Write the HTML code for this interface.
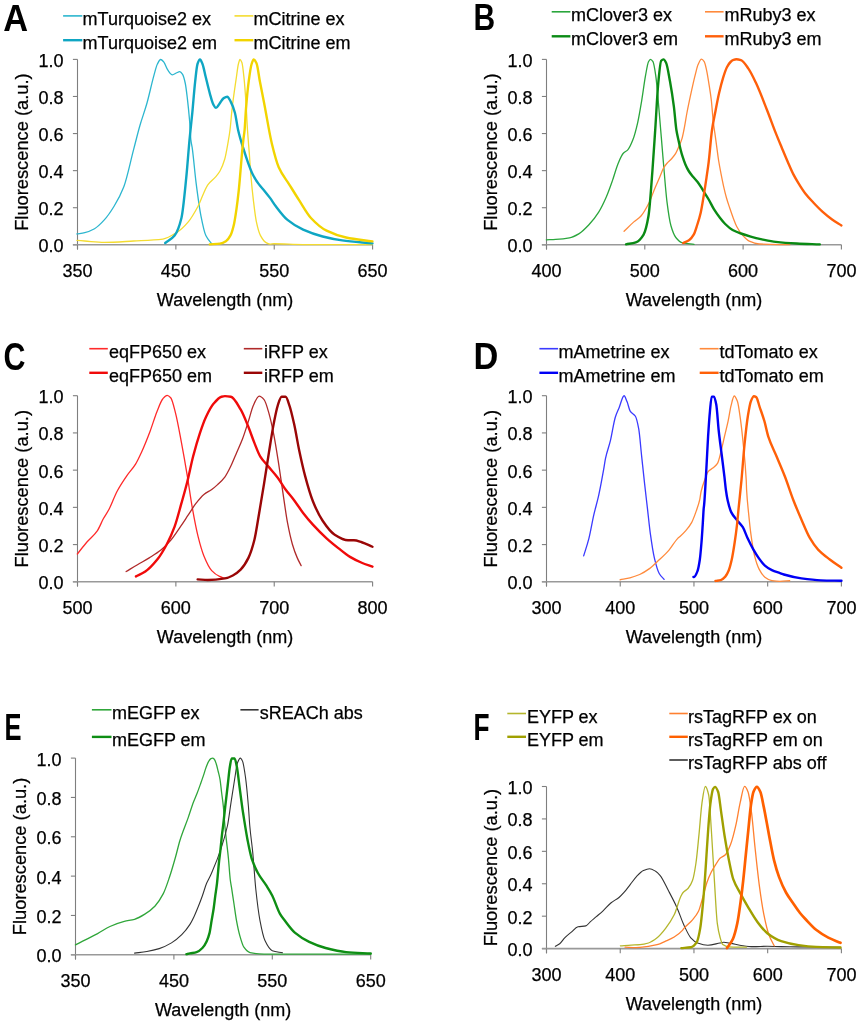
<!DOCTYPE html>
<html><head><meta charset="utf-8"><style>
html,body{margin:0;padding:0;background:#fff;width:860px;height:1024px;overflow:hidden}
svg{display:block;will-change:transform}
.t{stroke:#000;stroke-width:0.25px}
</style></head><body>
<svg width="860" height="1024" viewBox="0 0 860 1024">
<rect width="860" height="1024" fill="#fff"/>
<text x="0" y="0" transform="translate(3.2,30.7) scale(0.93,1)" font-size="37" font-weight="bold" font-family='"Liberation Sans", sans-serif'>A</text>
<line x1="63.10" y1="15.9" x2="82.30" y2="15.9" stroke="#2cb6cf" stroke-width="1.6"/>
<text x="82.6" y="25" class="t" font-size="18" font-family='"Liberation Sans", sans-serif'>mTurquoise2 ex</text>
<line x1="63.10" y1="40.2" x2="82.30" y2="40.2" stroke="#0fa6c3" stroke-width="2.4"/>
<text x="82.6" y="49.2" class="t" font-size="18" font-family='"Liberation Sans", sans-serif'>mTurquoise2 em</text>
<line x1="234.50" y1="15.9" x2="253.30" y2="15.9" stroke="#f4dc30" stroke-width="1.6"/>
<text x="253.6" y="25" class="t" font-size="18" font-family='"Liberation Sans", sans-serif'>mCitrine ex</text>
<line x1="234.50" y1="40.2" x2="253.30" y2="40.2" stroke="#f2d400" stroke-width="2.4"/>
<text x="253.6" y="49.2" class="t" font-size="18" font-family='"Liberation Sans", sans-serif'>mCitrine em</text>
<line x1="77.5" y1="59.4" x2="77.5" y2="249.5" stroke="#7f7f7f" stroke-width="1.1"/>
<line x1="72.9" y1="244.80" x2="77.5" y2="244.80" stroke="#7f7f7f" stroke-width="1.1"/>
<text x="63.6" y="252.30" class="t" font-size="18" text-anchor="end" font-family='"Liberation Sans", sans-serif'>0.0</text>
<line x1="72.9" y1="207.72" x2="77.5" y2="207.72" stroke="#7f7f7f" stroke-width="1.1"/>
<text x="63.6" y="215.22" class="t" font-size="18" text-anchor="end" font-family='"Liberation Sans", sans-serif'>0.2</text>
<line x1="72.9" y1="170.64" x2="77.5" y2="170.64" stroke="#7f7f7f" stroke-width="1.1"/>
<text x="63.6" y="178.14" class="t" font-size="18" text-anchor="end" font-family='"Liberation Sans", sans-serif'>0.4</text>
<line x1="72.9" y1="133.56" x2="77.5" y2="133.56" stroke="#7f7f7f" stroke-width="1.1"/>
<text x="63.6" y="141.06" class="t" font-size="18" text-anchor="end" font-family='"Liberation Sans", sans-serif'>0.6</text>
<line x1="72.9" y1="96.48" x2="77.5" y2="96.48" stroke="#7f7f7f" stroke-width="1.1"/>
<text x="63.6" y="103.98" class="t" font-size="18" text-anchor="end" font-family='"Liberation Sans", sans-serif'>0.8</text>
<line x1="72.9" y1="59.40" x2="77.5" y2="59.40" stroke="#7f7f7f" stroke-width="1.1"/>
<text x="63.6" y="66.90" class="t" font-size="18" text-anchor="end" font-family='"Liberation Sans", sans-serif'>1.0</text>
<line x1="72.9" y1="244.8" x2="372.6" y2="244.8" stroke="#999" stroke-width="1.6"/>
<line x1="77.50" y1="244.8" x2="77.50" y2="249.5" stroke="#7f7f7f" stroke-width="1.1"/>
<text x="77.50" y="276.80" class="t" font-size="18" text-anchor="middle" font-family='"Liberation Sans", sans-serif'>350</text>
<line x1="175.87" y1="244.8" x2="175.87" y2="249.5" stroke="#7f7f7f" stroke-width="1.1"/>
<text x="175.87" y="276.80" class="t" font-size="18" text-anchor="middle" font-family='"Liberation Sans", sans-serif'>450</text>
<line x1="274.23" y1="244.8" x2="274.23" y2="249.5" stroke="#7f7f7f" stroke-width="1.1"/>
<text x="274.23" y="276.80" class="t" font-size="18" text-anchor="middle" font-family='"Liberation Sans", sans-serif'>550</text>
<line x1="372.60" y1="244.8" x2="372.60" y2="249.5" stroke="#7f7f7f" stroke-width="1.1"/>
<text x="372.60" y="276.80" class="t" font-size="18" text-anchor="middle" font-family='"Liberation Sans", sans-serif'>650</text>
<text x="225.05" y="305.70" class="t" font-size="18" text-anchor="middle" font-family='"Liberation Sans", sans-serif'>Wavelength (nm)</text>
<text x="0" y="0" transform="translate(27.80,152.10) rotate(-90)" class="t" font-size="18.3" text-anchor="middle" font-family='"Liberation Sans", sans-serif'>Fluorescence (a.u.)</text>
<path d="M76.95,233.98 C79.56,233.53 82.16,233.24 84.77,232.62 C88.02,231.84 91.28,230.51 94.53,228.71 C97.79,226.91 101.04,223.49 104.30,219.92 C107.55,216.36 110.81,211.61 114.06,206.25 C117.32,200.89 120.57,195.25 123.83,186.72 C127.08,178.19 130.34,161.97 133.59,149.61 C135.73,141.50 137.86,132.71 140.00,125.30 C142.33,117.21 144.67,111.26 147.00,103.00 C149.33,94.74 151.67,83.38 154.00,75.10 C155.13,71.08 156.27,66.18 157.40,64.00 C158.50,61.89 159.60,59.50 160.70,59.50 C161.70,59.50 162.70,60.79 163.70,61.90 C165.10,63.46 166.50,68.31 167.90,70.20 C169.40,72.23 170.90,74.80 172.40,74.80 C173.70,74.80 175.00,73.56 176.30,73.00 C177.47,72.50 178.63,71.60 179.80,71.60 C180.73,71.60 181.67,72.96 182.60,74.40 C183.50,75.79 184.40,79.29 185.30,83.50 C186.00,86.78 186.70,92.90 187.40,98.80 C188.10,104.70 188.80,111.43 189.50,119.80 C189.97,125.38 190.43,136.09 190.90,140.00 C191.33,143.59 191.76,144.68 192.19,147.66 C193.49,156.67 194.79,172.67 196.09,182.81 C197.72,195.49 199.35,207.82 200.98,216.02 C202.60,224.21 204.23,232.12 205.86,235.55 C207.81,239.66 209.77,241.02 211.72,243.75" fill="none" stroke="#2cb6cf" stroke-width="1.3" stroke-linejoin="round" stroke-linecap="round"/>
<path d="M76.95,240.43 C79.56,240.62 82.16,240.83 84.77,241.02 C91.28,241.49 97.79,242.38 104.30,242.38 C114.06,242.38 123.83,241.55 133.59,241.02 C143.36,240.48 153.12,240.32 162.89,239.06 C167.45,238.48 172.01,235.48 176.56,232.62 C180.47,230.16 184.38,226.47 188.28,221.88 C191.54,218.05 194.79,212.28 198.05,206.25 C201.30,200.22 204.56,189.18 207.81,184.77 C210.42,181.23 213.02,180.00 215.62,176.95 C217.08,175.25 218.54,173.56 220.00,171.00 C221.57,168.25 223.13,164.60 224.70,159.30 C225.87,155.35 227.03,148.41 228.20,141.70 C228.80,138.25 229.40,134.74 230.00,130.00 C230.70,124.48 231.40,114.67 232.10,108.60 C233.50,96.46 234.90,87.57 236.30,77.90 C237.00,73.06 237.70,66.71 238.40,64.00 C238.93,61.93 239.47,59.50 240.00,59.50 C240.63,59.50 241.27,60.93 241.90,62.60 C242.60,64.45 243.30,71.43 244.00,77.90 C244.67,84.06 245.33,93.06 246.00,103.00 C246.50,110.46 247.00,122.41 247.50,130.00 C248.10,139.10 248.70,145.37 249.30,153.40 C249.87,160.98 250.43,170.25 251.00,176.80 C251.80,186.04 252.60,193.61 253.40,200.30 C254.37,208.39 255.33,216.70 256.30,221.30 C257.67,227.81 259.03,232.74 260.40,235.40 C262.17,238.84 263.93,241.30 265.70,242.40 C267.13,243.30 268.57,244.20 270.00,244.20 C271.28,244.20 272.55,243.75 273.83,243.75 C283.59,243.75 293.36,244.53 303.12,244.53 C326.24,244.53 349.35,244.53 372.46,244.53" fill="none" stroke="#f4dc30" stroke-width="1.3" stroke-linejoin="round" stroke-linecap="round"/>
<path d="M165.23,242.97 C168.36,240.49 171.48,239.44 174.61,235.55 C176.89,232.71 179.17,227.21 181.45,217.97 C183.07,211.37 184.70,193.03 186.33,176.95 C187.39,166.51 188.44,151.18 189.50,140.00 C190.43,130.13 191.37,122.41 192.30,112.80 C193.23,103.19 194.17,90.40 195.10,82.10 C195.90,74.98 196.70,66.33 197.50,64.00 C198.33,61.57 199.17,59.50 200.00,59.50 C200.83,59.50 201.67,61.95 202.50,64.00 C203.53,66.54 204.57,72.35 205.60,76.50 C207.00,82.12 208.40,88.36 209.80,93.30 C210.97,97.41 212.13,102.29 213.30,104.40 C214.20,106.03 215.10,107.90 216.00,107.90 C217.17,107.90 218.33,105.17 219.50,103.70 C220.90,101.93 222.30,98.95 223.70,98.10 C224.87,97.39 226.03,96.70 227.20,96.70 C228.37,96.70 229.53,99.48 230.70,101.60 C232.10,104.15 233.50,107.73 234.90,112.80 C235.97,116.66 237.03,125.38 238.10,130.00 C239.87,137.66 241.63,142.98 243.40,148.70 C244.97,153.77 246.53,158.54 248.10,162.80 C249.67,167.06 251.23,171.40 252.80,174.50 C254.73,178.32 256.67,181.25 258.60,183.90 C260.57,186.60 262.53,188.48 264.50,190.90 C266.33,193.15 268.17,195.42 270.00,197.90 C271.93,200.51 273.85,203.73 275.78,206.25 C279.69,211.35 283.59,216.70 287.50,219.92 C292.71,224.22 297.92,227.33 303.12,229.69 C309.64,232.64 316.15,234.87 322.66,236.52 C329.17,238.18 335.68,239.56 342.19,240.43 C352.28,241.78 362.37,242.38 372.46,243.36" fill="none" stroke="#0fa6c3" stroke-width="2.4" stroke-linejoin="round" stroke-linecap="round"/>
<path d="M209.77,244.34 C213.18,244.09 216.59,244.04 220.00,243.60 C221.97,243.34 223.93,242.44 225.90,241.20 C227.43,240.24 228.97,238.24 230.50,235.40 C231.70,233.18 232.90,228.92 234.10,223.70 C234.87,220.37 235.63,214.96 236.40,209.60 C237.17,204.24 237.93,198.13 238.70,190.90 C239.30,185.24 239.90,177.82 240.50,171.00 C241.07,164.55 241.63,157.10 242.20,151.10 C242.60,146.87 243.00,142.87 243.40,139.40 C243.80,135.93 244.20,134.11 244.60,130.00 C245.07,125.21 245.53,114.36 246.00,108.60 C246.93,97.07 247.87,87.66 248.80,80.70 C249.73,73.74 250.67,66.88 251.60,64.00 C252.30,61.84 253.00,59.50 253.70,59.50 C254.63,59.50 255.57,61.32 256.50,63.30 C257.67,65.77 258.83,76.00 260.00,82.10 C261.35,89.18 262.71,95.75 264.06,102.73 C266.67,116.16 269.27,133.00 271.88,143.75 C274.15,153.16 276.43,162.00 278.71,167.19 C282.29,175.33 285.87,178.97 289.45,184.77 C292.71,190.03 295.96,195.35 299.22,200.39 C303.12,206.44 307.03,213.79 310.94,217.97 C316.15,223.54 321.35,228.08 326.56,230.66 C333.07,233.90 339.58,236.12 346.09,237.50 C354.88,239.37 363.67,240.10 372.46,241.41" fill="none" stroke="#f2d400" stroke-width="2.4" stroke-linejoin="round" stroke-linecap="round"/>
<text x="0" y="0" transform="translate(473.5,29.8) scale(0.81,1)" font-size="37" font-weight="bold" font-family='"Liberation Sans", sans-serif'>B</text>
<line x1="551.70" y1="11.8" x2="570.40" y2="11.8" stroke="#2aa63c" stroke-width="1.6"/>
<text x="571.1" y="20.9" class="t" font-size="18" font-family='"Liberation Sans", sans-serif'>mClover3 ex</text>
<line x1="551.70" y1="36.3" x2="570.40" y2="36.3" stroke="#0a8a14" stroke-width="2.4"/>
<text x="571.1" y="45.1" class="t" font-size="18" font-family='"Liberation Sans", sans-serif'>mClover3 em</text>
<line x1="705.00" y1="11.8" x2="723.60" y2="11.8" stroke="#ff8a3c" stroke-width="1.6"/>
<text x="724.4" y="20.9" class="t" font-size="18" font-family='"Liberation Sans", sans-serif'>mRuby3 ex</text>
<line x1="705.00" y1="36.3" x2="723.60" y2="36.3" stroke="#ff5f0a" stroke-width="2.4"/>
<text x="724.4" y="45.1" class="t" font-size="18" font-family='"Liberation Sans", sans-serif'>mRuby3 em</text>
<line x1="546.5" y1="59.4" x2="546.5" y2="249.5" stroke="#7f7f7f" stroke-width="1.1"/>
<line x1="541.9" y1="244.80" x2="546.5" y2="244.80" stroke="#7f7f7f" stroke-width="1.1"/>
<text x="532.6" y="252.30" class="t" font-size="18" text-anchor="end" font-family='"Liberation Sans", sans-serif'>0.0</text>
<line x1="541.9" y1="207.72" x2="546.5" y2="207.72" stroke="#7f7f7f" stroke-width="1.1"/>
<text x="532.6" y="215.22" class="t" font-size="18" text-anchor="end" font-family='"Liberation Sans", sans-serif'>0.2</text>
<line x1="541.9" y1="170.64" x2="546.5" y2="170.64" stroke="#7f7f7f" stroke-width="1.1"/>
<text x="532.6" y="178.14" class="t" font-size="18" text-anchor="end" font-family='"Liberation Sans", sans-serif'>0.4</text>
<line x1="541.9" y1="133.56" x2="546.5" y2="133.56" stroke="#7f7f7f" stroke-width="1.1"/>
<text x="532.6" y="141.06" class="t" font-size="18" text-anchor="end" font-family='"Liberation Sans", sans-serif'>0.6</text>
<line x1="541.9" y1="96.48" x2="546.5" y2="96.48" stroke="#7f7f7f" stroke-width="1.1"/>
<text x="532.6" y="103.98" class="t" font-size="18" text-anchor="end" font-family='"Liberation Sans", sans-serif'>0.8</text>
<line x1="541.9" y1="59.40" x2="546.5" y2="59.40" stroke="#7f7f7f" stroke-width="1.1"/>
<text x="532.6" y="66.90" class="t" font-size="18" text-anchor="end" font-family='"Liberation Sans", sans-serif'>1.0</text>
<line x1="541.9" y1="244.8" x2="841.4" y2="244.8" stroke="#999" stroke-width="1.6"/>
<line x1="546.50" y1="244.8" x2="546.50" y2="249.5" stroke="#7f7f7f" stroke-width="1.1"/>
<text x="546.50" y="276.80" class="t" font-size="18" text-anchor="middle" font-family='"Liberation Sans", sans-serif'>400</text>
<line x1="644.80" y1="244.8" x2="644.80" y2="249.5" stroke="#7f7f7f" stroke-width="1.1"/>
<text x="644.80" y="276.80" class="t" font-size="18" text-anchor="middle" font-family='"Liberation Sans", sans-serif'>500</text>
<line x1="743.10" y1="244.8" x2="743.10" y2="249.5" stroke="#7f7f7f" stroke-width="1.1"/>
<text x="743.10" y="276.80" class="t" font-size="18" text-anchor="middle" font-family='"Liberation Sans", sans-serif'>600</text>
<line x1="841.40" y1="244.8" x2="841.40" y2="249.5" stroke="#7f7f7f" stroke-width="1.1"/>
<text x="841.40" y="276.80" class="t" font-size="18" text-anchor="middle" font-family='"Liberation Sans", sans-serif'>700</text>
<text x="693.95" y="305.70" class="t" font-size="18" text-anchor="middle" font-family='"Liberation Sans", sans-serif'>Wavelength (nm)</text>
<text x="0" y="0" transform="translate(496.80,152.10) rotate(-90)" class="t" font-size="18.3" text-anchor="middle" font-family='"Liberation Sans", sans-serif'>Fluorescence (a.u.)</text>
<path d="M546.34,239.84 C549.47,239.71 552.59,239.64 555.72,239.45 C560.28,239.18 564.83,238.75 569.39,237.89 C572.65,237.28 575.90,235.52 579.16,233.59 C582.41,231.67 585.67,228.27 588.92,224.80 C592.18,221.34 595.43,217.28 598.69,212.11 C601.29,207.97 603.90,202.48 606.50,196.48 C608.45,191.99 610.41,186.37 612.36,180.86 C614.31,175.34 616.27,167.94 618.22,163.28 C619.85,159.40 621.47,155.38 623.10,153.52 C624.73,151.66 626.36,151.47 627.98,149.61 C629.61,147.75 631.24,144.03 632.87,139.84 C634.49,135.66 636.12,129.40 637.75,122.27 C639.05,116.56 640.35,108.54 641.66,100.78 C642.96,93.02 644.26,82.41 645.56,75.39 C646.54,70.13 647.52,63.51 648.49,61.72 C649.14,60.52 649.79,59.38 650.45,59.38 C651.29,59.38 652.14,60.41 652.98,61.72 C653.90,63.13 654.81,69.30 655.72,75.39 C656.89,83.23 658.06,99.35 659.23,112.50 C660.54,127.11 661.84,144.43 663.14,159.38 C664.44,174.32 665.74,192.23 667.05,202.34 C668.35,212.45 669.65,221.24 670.95,225.78 C672.58,231.45 674.21,235.49 675.84,237.50 C678.11,240.31 680.39,242.46 682.67,242.97 C686.45,243.81 690.22,243.88 694.00,244.34" fill="none" stroke="#2aa63c" stroke-width="1.3" stroke-linejoin="round" stroke-linecap="round"/>
<path d="M624.08,231.25 C627.33,228.12 630.59,224.74 633.84,221.88 C636.23,219.77 638.61,218.59 641.00,216.00 C643.60,213.18 646.20,208.44 648.80,203.30 C650.87,199.21 652.93,192.91 655.00,188.00 C656.67,184.04 658.33,180.43 660.00,176.50 C661.13,173.83 662.27,170.32 663.40,168.30 C664.53,166.28 665.67,164.84 666.80,163.50 C668.40,161.61 670.00,160.53 671.60,158.70 C672.97,157.14 674.33,155.56 675.70,153.30 C676.87,151.37 678.03,148.43 679.20,145.70 C680.10,143.59 681.00,141.84 681.90,138.90 C682.57,136.73 683.23,133.29 683.90,130.00 C684.93,124.90 685.97,117.91 687.00,112.50 C688.07,106.92 689.13,101.92 690.20,96.90 C691.23,92.04 692.27,87.24 693.30,82.80 C694.07,79.51 694.83,76.33 695.60,73.40 C696.40,70.34 697.20,66.61 698.00,64.80 C699.17,62.16 700.33,59.20 701.50,59.20 C702.40,59.20 703.30,60.36 704.20,61.70 C705.00,62.89 705.80,66.75 706.60,70.30 C707.37,73.70 708.13,78.80 708.90,83.60 C709.70,88.61 710.50,93.24 711.30,100.00 C712.00,105.91 712.70,117.02 713.40,122.90 C713.87,126.82 714.33,129.37 714.80,132.70 C715.47,137.46 716.13,142.46 716.80,147.30 C717.43,151.89 718.07,157.05 718.70,161.00 C719.53,166.20 720.37,170.32 721.20,174.60 C722.00,178.71 722.80,182.76 723.60,186.30 C724.57,190.58 725.53,194.61 726.50,198.00 C727.67,202.10 728.83,205.34 730.00,208.80 C731.13,212.16 732.27,215.53 733.40,218.50 C734.50,221.38 735.60,224.42 736.70,226.50 C738.57,230.03 740.43,232.78 742.30,234.90 C744.63,237.55 746.97,240.16 749.30,241.20 C752.57,242.66 755.83,243.84 759.10,244.00 C769.33,244.51 779.57,244.47 789.80,244.70" fill="none" stroke="#ff8a3c" stroke-width="1.3" stroke-linejoin="round" stroke-linecap="round"/>
<path d="M626.03,244.34 C629.29,243.68 632.54,243.50 635.80,242.38 C638.40,241.49 641.01,238.89 643.61,234.57 C645.24,231.87 646.86,225.49 648.49,216.02 C649.79,208.44 651.10,187.98 652.40,171.09 C653.38,158.43 654.35,142.77 655.33,128.12 C656.30,113.48 657.28,93.19 658.26,83.20 C659.23,73.22 660.21,61.77 661.19,60.74 C661.97,59.92 662.75,59.38 663.53,59.38 C664.38,59.38 665.22,61.03 666.07,62.70 C667.37,65.26 668.67,74.10 669.98,81.25 C671.28,88.40 672.58,96.56 673.88,106.64 C674.72,113.14 675.56,124.66 676.40,130.00 C677.10,134.45 677.80,137.03 678.50,140.30 C679.17,143.41 679.83,146.56 680.50,149.20 C681.20,151.98 681.90,154.50 682.60,156.70 C683.50,159.53 684.40,162.09 685.30,164.20 C686.43,166.85 687.57,169.17 688.70,171.00 C690.07,173.21 691.43,174.81 692.80,176.50 C694.40,178.48 696.00,179.92 697.60,182.00 C698.97,183.78 700.33,185.97 701.70,188.10 C702.87,189.92 704.03,191.90 705.20,193.80 C706.37,195.70 707.53,197.48 708.70,199.50 C710.43,202.50 712.17,206.39 713.90,209.20 C715.97,212.54 718.03,215.35 720.10,218.00 C721.80,220.18 723.50,222.35 725.20,224.00 C727.67,226.40 730.13,228.62 732.60,230.00 C735.37,231.54 738.13,232.50 740.90,233.50 C744.17,234.69 747.43,235.70 750.70,236.60 C754.43,237.62 758.17,238.51 761.90,239.30 C766.53,240.28 771.17,241.38 775.80,241.90 C782.77,242.68 789.73,243.14 796.70,243.50 C804.40,243.90 812.10,244.10 819.80,244.40" fill="none" stroke="#0a8a14" stroke-width="2.4" stroke-linejoin="round" stroke-linecap="round"/>
<path d="M683.20,243.00 C685.23,242.00 687.27,241.45 689.30,240.00 C690.77,238.95 692.23,237.20 693.70,234.70 C694.87,232.71 696.03,228.62 697.20,225.00 C698.37,221.38 699.53,217.79 700.70,212.70 C701.73,208.19 702.77,201.36 703.80,195.10 C704.70,189.64 705.60,183.74 706.50,177.60 C707.23,172.59 707.97,167.78 708.70,161.80 C709.80,152.83 710.90,137.66 712.00,130.00 C713.07,122.57 714.13,118.08 715.20,112.50 C716.50,105.70 717.80,98.63 719.10,93.00 C720.40,87.37 721.70,82.30 723.00,78.10 C724.30,73.90 725.60,69.67 726.90,67.20 C728.10,64.92 729.30,63.12 730.50,62.00 C731.50,61.07 732.50,60.23 733.50,59.90 C734.43,59.60 735.37,59.30 736.30,59.30 C737.83,59.30 739.37,59.72 740.90,60.20 C743.40,60.99 745.90,65.08 748.40,68.60 C750.87,72.07 753.33,77.38 755.80,82.60 C759.53,90.50 763.27,100.52 767.00,110.00 C769.97,117.53 772.93,125.93 775.90,133.40 C777.83,138.27 779.77,142.86 781.70,147.50 C783.67,152.22 785.63,156.98 787.60,161.50 C789.53,165.94 791.47,170.64 793.40,174.40 C794.97,177.45 796.53,180.05 798.10,182.60 C800.43,186.40 802.77,190.16 805.10,193.20 C807.83,196.76 810.57,199.59 813.30,202.50 C816.43,205.84 819.57,209.10 822.70,211.90 C825.83,214.70 828.97,217.27 832.10,219.50 C835.20,221.70 838.30,223.43 841.40,225.40" fill="none" stroke="#ff5f0a" stroke-width="2.4" stroke-linejoin="round" stroke-linecap="round"/>
<text x="0" y="0" transform="translate(3.6,369.6) scale(0.8,1)" font-size="38" font-weight="bold" font-family='"Liberation Sans", sans-serif'>C</text>
<line x1="89.30" y1="348.7" x2="107.80" y2="348.7" stroke="#ff2a2a" stroke-width="1.6"/>
<text x="109" y="358.1" class="t" font-size="18" font-family='"Liberation Sans", sans-serif'>eqFP650 ex</text>
<line x1="89.30" y1="372.8" x2="107.80" y2="372.8" stroke="#f00a0a" stroke-width="2.4"/>
<text x="109" y="382.2" class="t" font-size="18" font-family='"Liberation Sans", sans-serif'>eqFP650 em</text>
<line x1="243.80" y1="348.7" x2="262.30" y2="348.7" stroke="#b02a2a" stroke-width="1.6"/>
<text x="264" y="358.1" class="t" font-size="18" font-family='"Liberation Sans", sans-serif'>iRFP ex</text>
<line x1="243.80" y1="372.8" x2="262.30" y2="372.8" stroke="#9a0606" stroke-width="2.4"/>
<text x="264" y="382.2" class="t" font-size="18" font-family='"Liberation Sans", sans-serif'>iRFP em</text>
<line x1="77.5" y1="395.7" x2="77.5" y2="586.5" stroke="#7f7f7f" stroke-width="1.1"/>
<line x1="72.9" y1="581.80" x2="77.5" y2="581.80" stroke="#7f7f7f" stroke-width="1.1"/>
<text x="63.6" y="589.30" class="t" font-size="18" text-anchor="end" font-family='"Liberation Sans", sans-serif'>0.0</text>
<line x1="72.9" y1="544.58" x2="77.5" y2="544.58" stroke="#7f7f7f" stroke-width="1.1"/>
<text x="63.6" y="552.08" class="t" font-size="18" text-anchor="end" font-family='"Liberation Sans", sans-serif'>0.2</text>
<line x1="72.9" y1="507.36" x2="77.5" y2="507.36" stroke="#7f7f7f" stroke-width="1.1"/>
<text x="63.6" y="514.86" class="t" font-size="18" text-anchor="end" font-family='"Liberation Sans", sans-serif'>0.4</text>
<line x1="72.9" y1="470.14" x2="77.5" y2="470.14" stroke="#7f7f7f" stroke-width="1.1"/>
<text x="63.6" y="477.64" class="t" font-size="18" text-anchor="end" font-family='"Liberation Sans", sans-serif'>0.6</text>
<line x1="72.9" y1="432.92" x2="77.5" y2="432.92" stroke="#7f7f7f" stroke-width="1.1"/>
<text x="63.6" y="440.42" class="t" font-size="18" text-anchor="end" font-family='"Liberation Sans", sans-serif'>0.8</text>
<line x1="72.9" y1="395.70" x2="77.5" y2="395.70" stroke="#7f7f7f" stroke-width="1.1"/>
<text x="63.6" y="403.20" class="t" font-size="18" text-anchor="end" font-family='"Liberation Sans", sans-serif'>1.0</text>
<line x1="72.9" y1="581.8" x2="372.6" y2="581.8" stroke="#999" stroke-width="1.6"/>
<line x1="77.50" y1="581.8" x2="77.50" y2="586.5" stroke="#7f7f7f" stroke-width="1.1"/>
<text x="77.50" y="613.80" class="t" font-size="18" text-anchor="middle" font-family='"Liberation Sans", sans-serif'>500</text>
<line x1="175.87" y1="581.8" x2="175.87" y2="586.5" stroke="#7f7f7f" stroke-width="1.1"/>
<text x="175.87" y="613.80" class="t" font-size="18" text-anchor="middle" font-family='"Liberation Sans", sans-serif'>600</text>
<line x1="274.23" y1="581.8" x2="274.23" y2="586.5" stroke="#7f7f7f" stroke-width="1.1"/>
<text x="274.23" y="613.80" class="t" font-size="18" text-anchor="middle" font-family='"Liberation Sans", sans-serif'>700</text>
<line x1="372.60" y1="581.8" x2="372.60" y2="586.5" stroke="#7f7f7f" stroke-width="1.1"/>
<text x="372.60" y="613.80" class="t" font-size="18" text-anchor="middle" font-family='"Liberation Sans", sans-serif'>800</text>
<text x="225.05" y="642.70" class="t" font-size="18" text-anchor="middle" font-family='"Liberation Sans", sans-serif'>Wavelength (nm)</text>
<text x="0" y="0" transform="translate(27.80,488.75) rotate(-90)" class="t" font-size="18.3" text-anchor="middle" font-family='"Liberation Sans", sans-serif'>Fluorescence (a.u.)</text>
<path d="M77.34,553.97 C80.47,550.06 83.59,545.90 86.72,542.25 C90.30,538.07 93.88,535.74 97.46,530.53 C99.41,527.69 101.37,522.36 103.32,518.81 C105.27,515.26 107.23,512.76 109.18,509.05 C111.78,504.10 114.39,496.37 116.99,491.47 C120.25,485.34 123.50,480.57 126.76,475.84 C129.69,471.59 132.62,468.88 135.55,464.12 C137.50,460.96 139.45,456.67 141.41,452.41 C144.34,446.00 147.27,438.67 150.20,430.92 C152.47,424.90 154.75,416.99 157.03,411.39 C158.98,406.59 160.94,400.87 162.89,398.70 C164.32,397.10 165.76,395.38 167.19,395.38 C168.36,395.38 169.53,396.47 170.70,397.72 C172.33,399.45 173.96,407.03 175.59,413.34 C177.54,420.92 179.49,432.26 181.45,442.64 C183.40,453.02 185.35,464.08 187.30,475.84 C188.93,485.65 190.56,497.92 192.19,507.09 C194.14,518.10 196.09,528.58 198.05,536.39 C200.00,544.20 201.95,551.17 203.91,555.92 C206.51,562.26 209.11,567.78 211.72,570.57 C214.32,573.36 216.93,575.20 219.53,576.43 C221.35,577.29 223.18,577.73 225.00,578.38" fill="none" stroke="#ff2a2a" stroke-width="1.3" stroke-linejoin="round" stroke-linecap="round"/>
<path d="M126.17,571.55 C129.95,569.27 133.72,566.95 137.50,564.71 C141.41,562.39 145.31,560.31 149.22,557.88 C153.12,555.44 157.03,553.21 160.94,550.06 C164.19,547.44 167.45,544.09 170.70,540.30 C173.96,536.50 177.21,531.35 180.47,526.62 C183.07,522.85 185.68,518.81 188.28,514.91 C190.89,511.00 193.49,506.54 196.09,503.19 C198.70,499.84 201.30,496.49 203.91,494.40 C206.51,492.31 209.11,491.39 211.72,489.52 C213.67,488.11 215.62,486.44 217.58,484.63 C220.05,482.34 222.53,480.16 225.00,476.82 C226.95,474.18 228.91,470.09 230.86,466.08 C232.81,462.07 234.77,456.96 236.72,452.41 C238.67,447.85 240.62,443.86 242.58,438.73 C244.53,433.61 246.48,427.21 248.44,421.16 C250.07,416.11 251.69,409.04 253.32,405.53 C255.27,401.32 257.23,396.16 259.18,396.16 C260.81,396.16 262.43,397.81 264.06,399.67 C265.69,401.54 267.32,407.77 268.95,413.34 C270.57,418.91 272.20,426.56 273.83,434.83 C275.46,443.09 277.08,453.75 278.71,464.12 C280.34,474.50 281.97,486.52 283.59,497.33 C284.90,505.98 286.20,515.84 287.50,522.72 C289.13,531.32 290.76,538.63 292.38,544.20 C294.01,549.77 295.64,554.10 297.27,557.88 C298.57,560.89 299.87,563.08 301.17,565.69" fill="none" stroke="#b02a2a" stroke-width="1.3" stroke-linejoin="round" stroke-linecap="round"/>
<path d="M135.94,576.43 C139.06,574.80 142.19,573.66 145.31,571.55 C149.22,568.90 153.12,564.67 157.03,559.83 C160.29,555.79 163.54,550.33 166.80,544.20 C169.40,539.30 172.01,533.73 174.61,526.62 C176.89,520.41 179.17,511.27 181.45,503.19 C183.40,496.26 185.35,489.46 187.30,481.70 C189.26,473.94 191.21,463.81 193.16,456.31 C195.44,447.56 197.72,439.69 200.00,432.88 C201.95,427.03 203.91,421.42 205.86,417.25 C208.46,411.69 211.07,406.62 213.67,403.58 C216.28,400.54 218.88,397.41 221.48,396.74 C222.66,396.44 223.83,396.16 225.00,396.16 C226.95,396.16 228.91,396.40 230.86,396.74 C234.11,397.31 237.37,404.02 240.62,409.44 C243.23,413.77 245.83,420.63 248.44,427.02 C250.39,431.80 252.34,437.78 254.30,442.64 C256.25,447.50 258.20,453.09 260.16,456.31 C262.76,460.61 265.36,462.89 267.97,466.08 C271.22,470.07 274.48,473.44 277.73,477.80 C280.34,481.28 282.94,485.96 285.55,489.52 C288.15,493.07 290.76,495.85 293.36,499.28 C296.61,503.57 299.87,508.75 303.12,512.95 C306.38,517.16 309.64,521.10 312.89,524.67 C317.45,529.67 322.01,534.21 326.56,538.34 C330.47,541.89 334.38,545.03 338.28,548.11 C342.19,551.19 346.09,554.55 350.00,556.90 C353.91,559.24 357.81,561.12 361.72,562.76 C365.30,564.26 368.88,565.36 372.46,566.66" fill="none" stroke="#f00a0a" stroke-width="2.4" stroke-linejoin="round" stroke-linecap="round"/>
<path d="M197.66,579.36 C201.04,579.55 204.43,579.95 207.81,579.95 C213.54,579.95 219.27,579.29 225.00,578.38 C227.60,577.97 230.21,576.76 232.81,575.45 C235.42,574.15 238.02,572.20 240.62,569.59 C243.23,566.99 245.83,563.17 248.44,557.88 C250.39,553.91 252.34,548.00 254.30,540.30 C255.92,533.88 257.55,522.38 259.18,512.95 C260.81,503.52 262.43,493.74 264.06,483.66 C265.69,473.58 267.32,462.49 268.95,452.41 C270.57,442.33 272.20,431.44 273.83,423.11 C275.13,416.45 276.43,409.44 277.73,405.53 C279.04,401.62 280.34,396.74 281.64,396.74 C282.94,396.74 284.24,396.74 285.55,396.74 C286.85,396.74 288.15,401.82 289.45,405.53 C291.08,410.17 292.71,417.70 294.34,425.06 C295.96,432.42 297.59,442.74 299.22,450.45 C301.17,459.71 303.12,468.54 305.08,475.84 C307.68,485.58 310.29,494.73 312.89,501.23 C316.15,509.37 319.40,515.93 322.66,520.77 C326.56,526.57 330.47,531.96 334.38,534.44 C338.93,537.33 343.49,540.30 348.05,540.30 C350.00,540.30 351.95,540.30 353.91,540.30 C356.51,540.30 359.11,541.45 361.72,542.25 C365.30,543.36 368.88,545.24 372.46,546.74" fill="none" stroke="#9a0606" stroke-width="2.4" stroke-linejoin="round" stroke-linecap="round"/>
<text x="0" y="0" transform="translate(473.5,369.2) scale(0.93,1)" font-size="37" font-weight="bold" font-family='"Liberation Sans", sans-serif'>D</text>
<line x1="539.40" y1="348.7" x2="558.10" y2="348.7" stroke="#3a3aff" stroke-width="1.6"/>
<text x="558.5" y="358.1" class="t" font-size="18" font-family='"Liberation Sans", sans-serif'>mAmetrine ex</text>
<line x1="539.40" y1="372.8" x2="558.10" y2="372.8" stroke="#0000f5" stroke-width="2.4"/>
<text x="558.5" y="382.2" class="t" font-size="18" font-family='"Liberation Sans", sans-serif'>mAmetrine em</text>
<line x1="699.70" y1="348.7" x2="718.60" y2="348.7" stroke="#ff8a3c" stroke-width="1.6"/>
<text x="719.6" y="358.1" class="t" font-size="18" font-family='"Liberation Sans", sans-serif'>tdTomato ex</text>
<line x1="699.70" y1="372.8" x2="718.60" y2="372.8" stroke="#ff6008" stroke-width="2.4"/>
<text x="719.6" y="382.2" class="t" font-size="18" font-family='"Liberation Sans", sans-serif'>tdTomato em</text>
<line x1="546.5" y1="395.7" x2="546.5" y2="586.5" stroke="#7f7f7f" stroke-width="1.1"/>
<line x1="541.9" y1="581.80" x2="546.5" y2="581.80" stroke="#7f7f7f" stroke-width="1.1"/>
<text x="532.6" y="589.30" class="t" font-size="18" text-anchor="end" font-family='"Liberation Sans", sans-serif'>0.0</text>
<line x1="541.9" y1="544.58" x2="546.5" y2="544.58" stroke="#7f7f7f" stroke-width="1.1"/>
<text x="532.6" y="552.08" class="t" font-size="18" text-anchor="end" font-family='"Liberation Sans", sans-serif'>0.2</text>
<line x1="541.9" y1="507.36" x2="546.5" y2="507.36" stroke="#7f7f7f" stroke-width="1.1"/>
<text x="532.6" y="514.86" class="t" font-size="18" text-anchor="end" font-family='"Liberation Sans", sans-serif'>0.4</text>
<line x1="541.9" y1="470.14" x2="546.5" y2="470.14" stroke="#7f7f7f" stroke-width="1.1"/>
<text x="532.6" y="477.64" class="t" font-size="18" text-anchor="end" font-family='"Liberation Sans", sans-serif'>0.6</text>
<line x1="541.9" y1="432.92" x2="546.5" y2="432.92" stroke="#7f7f7f" stroke-width="1.1"/>
<text x="532.6" y="440.42" class="t" font-size="18" text-anchor="end" font-family='"Liberation Sans", sans-serif'>0.8</text>
<line x1="541.9" y1="395.70" x2="546.5" y2="395.70" stroke="#7f7f7f" stroke-width="1.1"/>
<text x="532.6" y="403.20" class="t" font-size="18" text-anchor="end" font-family='"Liberation Sans", sans-serif'>1.0</text>
<line x1="541.9" y1="581.8" x2="841.4" y2="581.8" stroke="#999" stroke-width="1.6"/>
<line x1="546.50" y1="581.8" x2="546.50" y2="586.5" stroke="#7f7f7f" stroke-width="1.1"/>
<text x="546.50" y="613.80" class="t" font-size="18" text-anchor="middle" font-family='"Liberation Sans", sans-serif'>300</text>
<line x1="620.23" y1="581.8" x2="620.23" y2="586.5" stroke="#7f7f7f" stroke-width="1.1"/>
<text x="620.23" y="613.80" class="t" font-size="18" text-anchor="middle" font-family='"Liberation Sans", sans-serif'>400</text>
<line x1="693.95" y1="581.8" x2="693.95" y2="586.5" stroke="#7f7f7f" stroke-width="1.1"/>
<text x="693.95" y="613.80" class="t" font-size="18" text-anchor="middle" font-family='"Liberation Sans", sans-serif'>500</text>
<line x1="767.67" y1="581.8" x2="767.67" y2="586.5" stroke="#7f7f7f" stroke-width="1.1"/>
<text x="767.67" y="613.80" class="t" font-size="18" text-anchor="middle" font-family='"Liberation Sans", sans-serif'>600</text>
<line x1="841.40" y1="581.8" x2="841.40" y2="586.5" stroke="#7f7f7f" stroke-width="1.1"/>
<text x="841.40" y="613.80" class="t" font-size="18" text-anchor="middle" font-family='"Liberation Sans", sans-serif'>700</text>
<text x="693.95" y="642.70" class="t" font-size="18" text-anchor="middle" font-family='"Liberation Sans", sans-serif'>Wavelength (nm)</text>
<text x="0" y="0" transform="translate(496.80,488.75) rotate(-90)" class="t" font-size="18.3" text-anchor="middle" font-family='"Liberation Sans", sans-serif'>Fluorescence (a.u.)</text>
<path d="M583.65,555.92 C585.41,550.06 587.16,545.28 588.92,538.34 C590.55,531.93 592.18,522.01 593.80,514.91 C595.43,507.80 597.06,502.73 598.69,495.38 C600.32,488.02 601.94,479.15 603.57,469.98 C604.22,466.32 604.87,461.30 605.52,458.27 C607.15,450.67 608.78,447.38 610.41,440.69 C612.03,433.99 613.66,422.54 615.29,417.25 C616.59,413.02 617.89,410.68 619.20,407.48 C620.82,403.50 622.45,395.77 624.08,395.77 C625.05,395.77 626.03,399.31 627.01,401.62 C628.11,404.25 629.22,409.73 630.33,411.39 C632.02,413.93 633.71,413.56 635.41,416.27 C636.51,418.05 637.62,422.91 638.73,428.97 C639.70,434.31 640.68,447.20 641.66,456.31 C642.63,465.43 643.61,474.88 644.59,483.66 C645.56,492.43 646.54,500.58 647.52,509.05 C648.49,517.51 649.47,527.45 650.45,534.44 C651.75,543.75 653.05,552.38 654.35,557.88 C655.98,564.75 657.61,570.66 659.23,573.50 C660.86,576.34 662.49,577.41 664.12,579.36" fill="none" stroke="#3a3aff" stroke-width="1.3" stroke-linejoin="round" stroke-linecap="round"/>
<path d="M620.17,579.75 C623.43,579.10 626.68,578.62 629.94,577.80 C633.19,576.98 636.45,575.89 639.70,574.48 C642.96,573.06 646.21,570.96 649.47,568.62 C652.72,566.27 655.98,562.91 659.23,559.83 C662.49,556.74 665.74,553.79 669.00,550.06 C671.93,546.71 674.86,541.22 677.79,538.34 C678.53,537.62 679.26,537.16 680.00,536.50 C681.93,534.77 683.87,532.95 685.80,530.70 C687.73,528.45 689.67,526.09 691.60,522.60 C693.17,519.77 694.73,515.39 696.30,510.90 C697.47,507.56 698.63,504.51 699.80,499.30 C700.23,497.36 700.67,493.39 701.10,491.50 C702.47,485.54 703.83,482.31 705.20,478.60 C706.17,475.98 707.13,472.75 708.10,471.60 C709.67,469.74 711.23,469.44 712.80,468.10 C714.37,466.76 715.93,465.88 717.50,463.40 C718.67,461.55 719.83,456.03 721.00,451.60 C722.17,447.17 723.33,441.40 724.50,436.40 C725.70,431.26 726.90,426.85 728.10,421.20 C729.07,416.65 730.03,409.69 731.00,405.90 C732.07,401.72 733.13,396.00 734.20,396.00 C735.27,396.00 736.33,398.47 737.40,401.20 C738.40,403.76 739.40,411.72 740.40,418.80 C741.37,425.64 742.33,434.67 743.30,444.60 C744.27,454.53 745.23,462.34 746.20,479.80 C746.33,482.21 746.47,487.67 746.60,490.00 C747.27,501.63 747.93,506.47 748.60,513.30 C749.37,521.15 750.13,528.59 750.90,534.20 C752.07,542.73 753.23,550.39 754.40,555.10 C755.97,561.43 757.53,566.08 759.10,569.10 C761.03,572.82 762.97,575.76 764.90,577.20 C767.23,578.94 769.57,580.39 771.90,580.70 C774.60,581.05 777.30,581.30 780.00,581.30 C783.23,581.30 786.47,580.92 789.70,580.73" fill="none" stroke="#ff8a3c" stroke-width="1.3" stroke-linejoin="round" stroke-linecap="round"/>
<path d="M693.41,577.02 C693.61,577.01 693.80,577.01 694.00,577.00 C695.13,576.95 696.27,574.27 697.40,571.40 C698.20,569.38 699.00,565.17 699.80,559.80 C700.37,555.99 700.93,549.19 701.50,542.30 C701.90,537.44 702.30,530.97 702.70,524.90 C703.07,519.33 703.43,510.67 703.80,507.40 C703.87,506.81 703.93,506.58 704.00,506.00 C704.80,499.00 705.60,481.85 706.40,468.10 C706.97,458.36 707.53,445.35 708.10,436.40 C708.70,426.92 709.30,418.06 709.90,411.80 C710.50,405.54 711.10,396.60 711.70,396.60 C712.47,396.60 713.23,396.60 714.00,396.60 C714.77,396.60 715.53,400.71 716.30,404.80 C717.10,409.06 717.90,423.09 718.70,430.50 C719.67,439.46 720.63,446.18 721.60,454.00 C722.57,461.82 723.53,469.12 724.50,477.40 C724.97,481.40 725.43,486.67 725.90,490.00 C726.50,494.29 727.10,497.89 727.70,500.50 C728.87,505.58 730.03,509.73 731.20,512.10 C733.13,516.03 735.07,517.70 737.00,520.20 C738.93,522.70 740.87,524.11 742.80,527.20 C744.33,529.65 745.87,534.45 747.40,537.70 C749.37,541.87 751.33,545.83 753.30,549.30 C755.23,552.71 757.17,555.94 759.10,558.60 C761.03,561.26 762.97,563.94 764.90,565.60 C767.23,567.60 769.57,569.11 771.90,570.20 C774.60,571.46 777.30,572.13 780.00,573.10 C781.28,573.56 782.56,574.11 783.84,574.48 C789.70,576.17 795.56,577.57 801.42,578.38 C807.93,579.29 814.44,580.13 820.95,580.34 C827.79,580.56 834.62,580.60 841.46,580.73" fill="none" stroke="#0000f5" stroke-width="2.4" stroke-linejoin="round" stroke-linecap="round"/>
<path d="M715.48,580.92 C717.22,580.65 718.96,580.56 720.70,580.10 C722.23,579.69 723.77,578.28 725.30,576.60 C726.47,575.32 727.63,573.05 728.80,570.20 C729.77,567.83 730.73,564.09 731.70,559.80 C732.70,555.36 733.70,548.93 734.70,542.30 C735.47,537.22 736.23,531.64 737.00,524.90 C737.57,519.92 738.13,513.12 738.70,507.40 C739.63,497.98 740.57,489.79 741.50,479.80 C742.50,469.10 743.50,454.41 744.50,444.60 C745.67,433.15 746.83,422.42 748.00,415.30 C748.97,409.40 749.93,403.57 750.90,401.20 C751.90,398.75 752.90,396.30 753.90,396.30 C754.67,396.30 755.43,396.65 756.20,397.10 C757.37,397.79 758.53,403.69 759.70,407.10 C761.27,411.68 762.83,415.84 764.40,421.20 C765.70,425.65 767.00,432.60 768.30,436.60 C771.07,445.10 773.83,449.85 776.60,456.50 C779.37,463.15 782.13,469.34 784.90,476.50 C787.67,483.66 790.43,492.54 793.20,499.70 C795.97,506.86 798.73,513.35 801.50,519.70 C804.27,526.05 807.03,533.15 809.80,537.90 C812.57,542.65 815.33,546.63 818.10,549.60 C822.00,553.78 825.90,556.48 829.80,559.50 C833.67,562.50 837.53,565.03 841.40,567.80" fill="none" stroke="#ff6008" stroke-width="2.4" stroke-linejoin="round" stroke-linecap="round"/>
<text x="0" y="0" transform="translate(4.5,739.7) scale(0.69,1)" font-size="37" font-weight="bold" font-family='"Liberation Sans", sans-serif'>E</text>
<line x1="91.90" y1="709.8" x2="111.50" y2="709.8" stroke="#30a63a" stroke-width="1.6"/>
<text x="111.9" y="718.8" class="t" font-size="18" font-family='"Liberation Sans", sans-serif'>mEGFP ex</text>
<line x1="91.90" y1="736.9" x2="111.50" y2="736.9" stroke="#0e8e14" stroke-width="2.4"/>
<text x="111.9" y="746.2" class="t" font-size="18" font-family='"Liberation Sans", sans-serif'>mEGFP em</text>
<line x1="240.40" y1="709.8" x2="258.60" y2="709.8" stroke="#333333" stroke-width="1.6"/>
<text x="259.7" y="718.8" class="t" font-size="18" font-family='"Liberation Sans", sans-serif'>sREACh abs</text>
<line x1="75.5" y1="758.1" x2="75.5" y2="959.5" stroke="#7f7f7f" stroke-width="1.1"/>
<line x1="70.9" y1="954.80" x2="75.5" y2="954.80" stroke="#7f7f7f" stroke-width="1.1"/>
<text x="61.6" y="962.30" class="t" font-size="18" text-anchor="end" font-family='"Liberation Sans", sans-serif'>0.0</text>
<line x1="70.9" y1="915.46" x2="75.5" y2="915.46" stroke="#7f7f7f" stroke-width="1.1"/>
<text x="61.6" y="922.96" class="t" font-size="18" text-anchor="end" font-family='"Liberation Sans", sans-serif'>0.2</text>
<line x1="70.9" y1="876.12" x2="75.5" y2="876.12" stroke="#7f7f7f" stroke-width="1.1"/>
<text x="61.6" y="883.62" class="t" font-size="18" text-anchor="end" font-family='"Liberation Sans", sans-serif'>0.4</text>
<line x1="70.9" y1="836.78" x2="75.5" y2="836.78" stroke="#7f7f7f" stroke-width="1.1"/>
<text x="61.6" y="844.28" class="t" font-size="18" text-anchor="end" font-family='"Liberation Sans", sans-serif'>0.6</text>
<line x1="70.9" y1="797.44" x2="75.5" y2="797.44" stroke="#7f7f7f" stroke-width="1.1"/>
<text x="61.6" y="804.94" class="t" font-size="18" text-anchor="end" font-family='"Liberation Sans", sans-serif'>0.8</text>
<line x1="70.9" y1="758.10" x2="75.5" y2="758.10" stroke="#7f7f7f" stroke-width="1.1"/>
<text x="61.6" y="765.60" class="t" font-size="18" text-anchor="end" font-family='"Liberation Sans", sans-serif'>1.0</text>
<line x1="70.9" y1="954.8" x2="370.7" y2="954.8" stroke="#999" stroke-width="1.6"/>
<line x1="75.50" y1="954.8" x2="75.50" y2="959.5" stroke="#7f7f7f" stroke-width="1.1"/>
<text x="75.50" y="986.80" class="t" font-size="18" text-anchor="middle" font-family='"Liberation Sans", sans-serif'>350</text>
<line x1="173.90" y1="954.8" x2="173.90" y2="959.5" stroke="#7f7f7f" stroke-width="1.1"/>
<text x="173.90" y="986.80" class="t" font-size="18" text-anchor="middle" font-family='"Liberation Sans", sans-serif'>450</text>
<line x1="272.30" y1="954.8" x2="272.30" y2="959.5" stroke="#7f7f7f" stroke-width="1.1"/>
<text x="272.30" y="986.80" class="t" font-size="18" text-anchor="middle" font-family='"Liberation Sans", sans-serif'>550</text>
<line x1="370.70" y1="954.8" x2="370.70" y2="959.5" stroke="#7f7f7f" stroke-width="1.1"/>
<text x="370.70" y="986.80" class="t" font-size="18" text-anchor="middle" font-family='"Liberation Sans", sans-serif'>650</text>
<text x="223.10" y="1015.70" class="t" font-size="18" text-anchor="middle" font-family='"Liberation Sans", sans-serif'>Wavelength (nm)</text>
<text x="0" y="0" transform="translate(25.80,856.45) rotate(-90)" class="t" font-size="18.3" text-anchor="middle" font-family='"Liberation Sans", sans-serif'>Fluorescence (a.u.)</text>
<path d="M75.46,944.94 C78.75,943.23 82.03,941.48 85.31,939.81 C89.42,937.71 93.52,935.86 97.62,933.65 C101.73,931.44 105.83,928.30 109.94,926.47 C114.72,924.34 119.51,922.55 124.30,921.34 C127.72,920.48 131.14,920.27 134.56,919.29 C137.98,918.31 141.40,916.26 144.82,914.16 C148.24,912.05 151.66,909.56 155.08,905.95 C157.82,903.06 160.55,898.96 163.29,893.64 C165.34,889.65 167.39,883.30 169.44,877.22 C171.50,871.14 173.55,863.97 175.60,856.70 C177.07,851.51 178.53,844.93 180.00,840.20 C182.73,831.38 185.47,825.40 188.20,817.60 C189.97,812.56 191.73,806.68 193.50,802.00 C194.73,798.73 195.97,796.18 197.20,793.00 C198.33,790.08 199.47,786.87 200.60,783.70 C201.57,780.99 202.53,778.29 203.50,775.40 C204.33,772.91 205.17,769.87 206.00,767.60 C206.80,765.42 207.60,763.14 208.40,761.80 C209.23,760.40 210.07,758.98 210.90,758.60 C211.47,758.34 212.03,758.10 212.60,758.10 C213.17,758.10 213.73,758.69 214.30,759.30 C214.93,759.98 215.57,761.86 216.20,763.70 C216.87,765.63 217.53,768.76 218.20,771.50 C218.80,773.97 219.40,775.87 220.00,779.30 C220.53,782.35 221.07,788.17 221.60,792.50 C222.20,797.38 222.80,800.96 223.40,806.90 C223.90,811.85 224.40,820.53 224.90,826.00 C225.30,830.37 225.70,833.87 226.10,837.60 C226.87,844.74 227.63,850.36 228.40,858.10 C229.03,864.49 229.67,875.02 230.30,880.00 C230.70,883.14 231.10,884.85 231.50,887.40 C232.33,892.71 233.17,898.47 234.00,904.00 C234.83,909.53 235.67,916.06 236.50,920.60 C237.60,926.59 238.70,931.73 239.80,935.60 C241.17,940.41 242.53,945.29 243.90,947.20 C245.93,950.04 247.97,952.15 250.00,952.60 C254.68,953.64 259.36,954.17 264.04,954.17 C299.61,954.17 335.18,954.17 370.74,954.17" fill="none" stroke="#30a63a" stroke-width="1.3" stroke-linejoin="round" stroke-linecap="round"/>
<path d="M134.56,953.15 C138.66,952.60 142.77,952.20 146.87,951.50 C150.98,950.81 155.08,949.91 159.18,948.63 C163.29,947.36 167.39,945.33 171.50,942.89 C174.92,940.85 178.34,938.04 181.76,934.68 C184.49,931.99 187.23,928.65 189.96,924.42 C191.34,922.28 192.72,919.43 194.10,916.50 C195.50,913.53 196.90,910.00 198.30,906.50 C199.67,903.08 201.03,899.50 202.40,895.70 C203.80,891.80 205.20,886.66 206.60,883.30 C207.97,880.02 209.33,878.16 210.70,875.00 C216.27,862.14 221.83,850.50 227.40,826.00 C228.60,820.72 229.80,810.35 231.00,802.60 C232.20,794.85 233.40,786.77 234.60,779.50 C235.57,773.64 236.53,765.25 237.50,762.80 C238.47,760.35 239.43,758.10 240.40,758.10 C241.13,758.10 241.87,759.72 242.60,761.40 C243.57,763.62 244.53,770.46 245.50,777.30 C246.47,784.14 247.43,794.67 248.40,806.20 C248.87,811.77 249.33,820.73 249.80,826.00 C250.78,837.13 251.77,842.48 252.75,852.60 C253.78,863.15 254.81,879.96 255.83,889.53 C257.20,902.30 258.57,913.10 259.94,920.31 C261.65,929.34 263.36,937.24 265.07,940.83 C267.46,945.86 269.85,949.81 272.25,950.68 C275.67,951.93 279.09,952.05 282.51,952.74" fill="none" stroke="#333333" stroke-width="1.1" stroke-linejoin="round" stroke-linecap="round"/>
<path d="M186.47,954.17 C187.65,953.91 188.82,953.64 190.00,953.40 C192.20,952.96 194.40,952.85 196.60,952.20 C198.53,951.63 200.47,949.96 202.40,948.00 C203.80,946.58 205.20,944.29 206.60,941.40 C207.57,939.40 208.53,936.91 209.50,933.10 C210.20,930.34 210.90,924.75 211.60,920.60 C212.30,916.45 213.00,912.94 213.70,908.20 C214.23,904.59 214.77,899.73 215.30,895.70 C215.87,891.42 216.43,888.17 217.00,883.30 C217.70,877.29 218.40,867.50 219.10,861.00 C219.57,856.67 220.03,853.51 220.50,849.30 C221.00,844.79 221.50,838.92 222.00,834.60 C222.37,831.43 222.73,829.06 223.10,826.00 C223.80,820.16 224.50,813.10 225.20,806.90 C226.07,799.22 226.93,791.95 227.80,784.50 C228.50,778.49 229.20,770.56 229.90,766.50 C230.50,763.02 231.10,758.50 231.70,758.50 C232.67,758.50 233.63,758.50 234.60,758.50 C235.33,758.50 236.07,762.97 236.80,766.50 C237.77,771.15 238.73,780.88 239.70,788.10 C240.67,795.32 241.63,803.19 242.60,809.80 C242.90,811.85 243.20,813.72 243.50,815.60 C244.87,824.16 246.23,833.18 247.60,840.20 C248.97,847.22 250.33,854.32 251.70,858.60 C253.77,865.07 255.83,869.21 257.90,873.00 C260.63,878.01 263.37,880.86 266.10,885.20 C268.13,888.43 270.17,891.52 272.20,895.50 C274.80,900.58 277.40,909.42 280.00,913.90 C281.52,916.52 283.04,918.33 284.56,920.31 C287.98,924.79 291.40,929.71 294.82,932.63 C299.61,936.70 304.40,939.58 309.18,941.86 C314.66,944.47 320.13,946.57 325.60,948.02 C332.44,949.82 339.28,951.49 346.12,952.12 C354.33,952.87 362.53,953.08 370.74,953.56" fill="none" stroke="#0e8e14" stroke-width="2.4" stroke-linejoin="round" stroke-linecap="round"/>
<text x="0" y="0" transform="translate(473.5,739.7) scale(0.71,1)" font-size="37" font-weight="bold" font-family='"Liberation Sans", sans-serif'>F</text>
<line x1="507.30" y1="713.5" x2="526.00" y2="713.5" stroke="#b4b62c" stroke-width="1.6"/>
<text x="526.9" y="722.6" class="t" font-size="18" font-family='"Liberation Sans", sans-serif'>EYFP ex</text>
<line x1="507.30" y1="736.8" x2="526.00" y2="736.8" stroke="#a0a000" stroke-width="2.4"/>
<text x="526.9" y="745.6" class="t" font-size="18" font-family='"Liberation Sans", sans-serif'>EYFP em</text>
<line x1="669.30" y1="713.5" x2="687.80" y2="713.5" stroke="#ff8030" stroke-width="1.6"/>
<text x="688.1" y="722.6" class="t" font-size="18" font-family='"Liberation Sans", sans-serif'>rsTagRFP ex on</text>
<line x1="669.30" y1="736.8" x2="687.80" y2="736.8" stroke="#ff6000" stroke-width="2.4"/>
<text x="688.1" y="745.6" class="t" font-size="18" font-family='"Liberation Sans", sans-serif'>rsTagRFP em on</text>
<line x1="669.30" y1="760" x2="687.80" y2="760" stroke="#333333" stroke-width="1.6"/>
<text x="688.1" y="768.9" class="t" font-size="18" font-family='"Liberation Sans", sans-serif'>rsTagRFP abs off</text>
<line x1="546.5" y1="786.5" x2="546.5" y2="953.3000000000001" stroke="#7f7f7f" stroke-width="1.1"/>
<line x1="541.9" y1="948.60" x2="546.5" y2="948.60" stroke="#7f7f7f" stroke-width="1.1"/>
<text x="532.6" y="956.10" class="t" font-size="18" text-anchor="end" font-family='"Liberation Sans", sans-serif'>0.0</text>
<line x1="541.9" y1="916.18" x2="546.5" y2="916.18" stroke="#7f7f7f" stroke-width="1.1"/>
<text x="532.6" y="923.68" class="t" font-size="18" text-anchor="end" font-family='"Liberation Sans", sans-serif'>0.2</text>
<line x1="541.9" y1="883.76" x2="546.5" y2="883.76" stroke="#7f7f7f" stroke-width="1.1"/>
<text x="532.6" y="891.26" class="t" font-size="18" text-anchor="end" font-family='"Liberation Sans", sans-serif'>0.4</text>
<line x1="541.9" y1="851.34" x2="546.5" y2="851.34" stroke="#7f7f7f" stroke-width="1.1"/>
<text x="532.6" y="858.84" class="t" font-size="18" text-anchor="end" font-family='"Liberation Sans", sans-serif'>0.6</text>
<line x1="541.9" y1="818.92" x2="546.5" y2="818.92" stroke="#7f7f7f" stroke-width="1.1"/>
<text x="532.6" y="826.42" class="t" font-size="18" text-anchor="end" font-family='"Liberation Sans", sans-serif'>0.8</text>
<line x1="541.9" y1="786.50" x2="546.5" y2="786.50" stroke="#7f7f7f" stroke-width="1.1"/>
<text x="532.6" y="794.00" class="t" font-size="18" text-anchor="end" font-family='"Liberation Sans", sans-serif'>1.0</text>
<line x1="541.9" y1="948.6" x2="841.4" y2="948.6" stroke="#999" stroke-width="1.6"/>
<line x1="546.50" y1="948.6" x2="546.50" y2="953.3000000000001" stroke="#7f7f7f" stroke-width="1.1"/>
<text x="546.50" y="980.60" class="t" font-size="18" text-anchor="middle" font-family='"Liberation Sans", sans-serif'>300</text>
<line x1="620.23" y1="948.6" x2="620.23" y2="953.3000000000001" stroke="#7f7f7f" stroke-width="1.1"/>
<text x="620.23" y="980.60" class="t" font-size="18" text-anchor="middle" font-family='"Liberation Sans", sans-serif'>400</text>
<line x1="693.95" y1="948.6" x2="693.95" y2="953.3000000000001" stroke="#7f7f7f" stroke-width="1.1"/>
<text x="693.95" y="980.60" class="t" font-size="18" text-anchor="middle" font-family='"Liberation Sans", sans-serif'>500</text>
<line x1="767.67" y1="948.6" x2="767.67" y2="953.3000000000001" stroke="#7f7f7f" stroke-width="1.1"/>
<text x="767.67" y="980.60" class="t" font-size="18" text-anchor="middle" font-family='"Liberation Sans", sans-serif'>600</text>
<line x1="841.40" y1="948.6" x2="841.40" y2="953.3000000000001" stroke="#7f7f7f" stroke-width="1.1"/>
<text x="841.40" y="980.60" class="t" font-size="18" text-anchor="middle" font-family='"Liberation Sans", sans-serif'>700</text>
<text x="693.95" y="1009.50" class="t" font-size="18" text-anchor="middle" font-family='"Liberation Sans", sans-serif'>Wavelength (nm)</text>
<text x="0" y="0" transform="translate(496.80,867.55) rotate(-90)" class="t" font-size="18.3" text-anchor="middle" font-family='"Liberation Sans", sans-serif'>Fluorescence (a.u.)</text>
<path d="M555.34,946.31 C556.79,945.44 558.24,944.84 559.70,943.70 C561.44,942.33 563.19,939.32 564.93,937.59 C566.97,935.57 569.00,934.05 571.03,932.36 C573.36,930.43 575.69,927.24 578.01,926.78 C580.63,926.26 583.24,926.47 585.86,925.91 C587.31,925.60 588.77,923.19 590.22,921.90 C592.26,920.09 594.29,918.42 596.33,916.66 C598.65,914.65 600.98,912.73 603.30,910.56 C605.92,908.12 608.53,904.80 611.15,902.71 C613.77,900.62 616.38,899.60 619.00,897.48 C620.74,896.06 622.49,894.20 624.23,892.24 C626.27,889.96 628.30,887.01 630.34,884.40 C632.37,881.78 634.41,878.67 636.44,876.55 C638.77,874.11 641.09,871.43 643.42,870.44 C645.45,869.58 647.49,868.70 649.52,868.70 C651.56,868.70 653.59,870.09 655.63,871.31 C657.09,872.19 658.54,873.66 660.00,875.40 C662.83,878.78 665.67,885.43 668.50,890.80 C671.37,896.23 674.23,901.50 677.10,907.90 C679.37,912.96 681.63,920.16 683.90,925.00 C686.20,929.91 688.50,935.31 690.80,937.80 C693.07,940.25 695.33,942.21 697.60,943.00 C701.03,944.19 704.47,945.20 707.90,945.20 C711.93,945.20 715.97,943.75 720.00,943.00 C721.22,942.77 722.43,942.30 723.65,942.30 C725.98,942.30 728.30,942.95 730.63,943.35 C734.12,943.94 737.60,944.97 741.09,945.44 C745.16,945.99 749.23,946.66 753.30,946.66 C757.95,946.66 762.60,946.31 767.26,946.31 C771.91,946.31 776.56,946.60 781.21,946.66 C787.02,946.75 792.84,946.78 798.65,946.84 C812.60,946.97 826.56,947.07 840.51,947.19" fill="none" stroke="#333333" stroke-width="1.1" stroke-linejoin="round" stroke-linecap="round"/>
<path d="M620.40,945.79 C624.00,945.56 627.60,945.28 631.21,945.09 C634.14,944.94 637.07,944.91 640.00,944.70 C642.83,944.49 645.67,943.85 648.50,943.00 C651.37,942.14 654.23,940.04 657.10,937.80 C659.93,935.58 662.77,932.09 665.60,928.40 C668.47,924.67 671.33,920.63 674.20,914.80 C676.47,910.19 678.73,900.52 681.00,896.00 C681.70,894.61 682.40,893.31 683.10,892.50 C684.80,890.53 686.50,890.24 688.20,888.30 C689.63,886.67 691.07,884.46 692.50,880.60 C693.63,877.55 694.77,870.96 695.90,863.50 C696.93,856.70 697.97,844.71 699.00,834.40 C699.97,824.76 700.93,810.26 701.90,803.60 C703.03,795.79 704.17,786.50 705.30,786.50 C706.43,786.50 707.57,790.14 708.70,795.10 C709.57,798.89 710.43,816.64 711.30,829.30 C712.33,844.40 713.37,864.51 714.40,880.60 C715.37,895.65 716.33,916.05 717.30,923.30 C718.20,930.05 719.10,933.81 720.00,937.00 C720.93,940.29 721.85,943.90 722.78,944.57 C724.81,946.04 726.85,946.75 728.88,946.84 C734.70,947.10 740.51,947.07 746.33,947.19" fill="none" stroke="#b4b62c" stroke-width="1.3" stroke-linejoin="round" stroke-linecap="round"/>
<path d="M625.10,947.19 C628.74,947.32 632.37,947.60 636.00,947.60 C637.33,947.60 638.67,947.49 640.00,947.40 C645.70,947.01 651.40,946.07 657.10,944.70 C659.93,944.02 662.77,942.47 665.60,941.20 C668.47,939.92 671.33,938.75 674.20,937.00 C677.03,935.27 679.87,933.24 682.70,930.10 C683.10,929.66 683.50,928.89 683.90,928.40 C686.77,924.91 689.63,923.29 692.50,919.90 C694.50,917.53 696.50,915.37 698.50,911.30 C699.90,908.45 701.30,902.46 702.70,897.70 C704.13,892.83 705.57,886.41 707.00,882.30 C708.43,878.19 709.87,874.83 711.30,872.00 C713.00,868.64 714.70,866.12 716.40,863.50 C717.60,861.65 718.80,859.41 720.00,858.30 C721.80,856.63 723.60,856.53 725.40,854.74 C727.14,853.01 728.88,848.79 730.63,844.28 C732.37,839.76 734.12,832.63 735.86,825.09 C737.31,818.81 738.77,808.68 740.22,802.42 C741.67,796.15 743.13,786.37 744.58,786.37 C745.74,786.37 746.91,789.02 748.07,791.95 C749.23,794.89 750.40,804.16 751.56,812.88 C752.72,821.60 753.88,836.86 755.05,847.77 C756.50,861.41 757.95,875.37 759.41,886.14 C760.86,896.91 762.31,906.84 763.77,914.05 C765.51,922.69 767.26,930.22 769.00,934.98 C770.74,939.73 772.49,942.19 774.23,945.79" fill="none" stroke="#ff8030" stroke-width="1.3" stroke-linejoin="round" stroke-linecap="round"/>
<path d="M681.40,948.10 C684.53,947.80 687.67,947.77 690.80,947.20 C692.80,946.83 694.80,945.09 696.80,942.10 C697.93,940.41 699.07,934.80 700.20,928.40 C701.03,923.69 701.87,914.80 702.70,906.20 C703.40,898.97 704.10,890.08 704.80,880.60 C705.37,872.92 705.93,863.45 706.50,854.90 C707.07,846.35 707.63,836.80 708.20,829.30 C708.93,819.60 709.67,809.19 710.40,803.60 C711.27,796.99 712.13,790.65 713.00,789.10 C713.67,787.91 714.33,786.90 715.00,786.90 C716.03,786.90 717.07,789.09 718.10,791.70 C719.08,794.17 720.06,804.49 721.03,811.14 C722.20,819.05 723.36,828.29 724.52,835.56 C725.98,844.64 727.43,852.81 728.88,859.98 C730.34,867.14 731.79,875.05 733.24,879.16 C735.57,885.75 737.90,888.73 740.22,893.12 C742.84,898.05 745.45,902.66 748.07,907.07 C750.98,911.97 753.88,917.08 756.79,921.02 C760.28,925.75 763.77,930.54 767.26,933.23 C771.91,936.82 776.56,939.54 781.21,941.08 C787.02,943.01 792.84,944.28 798.65,945.09 C804.47,945.90 810.28,946.57 816.09,946.84 C824.23,947.21 832.37,947.30 840.51,947.53" fill="none" stroke="#a0a000" stroke-width="2.4" stroke-linejoin="round" stroke-linecap="round"/>
<path d="M727.00,948.10 C729.00,944.97 731.00,943.16 733.00,938.70 C734.43,935.51 735.87,930.01 737.30,923.30 C738.43,918.00 739.57,909.39 740.70,901.10 C741.53,895.01 742.37,888.07 743.20,880.60 C744.07,872.84 744.93,863.45 745.80,854.90 C746.67,846.35 747.53,837.71 748.40,829.30 C749.23,821.22 750.07,811.07 750.90,805.40 C751.77,799.50 752.63,793.68 753.50,791.70 C754.63,789.11 755.77,786.90 756.90,786.90 C758.03,786.90 759.17,789.28 760.30,791.70 C761.47,794.19 762.63,801.50 763.80,807.10 C765.50,815.26 767.20,825.57 768.90,834.40 C770.60,843.23 772.30,853.28 774.00,860.10 C775.70,866.92 777.40,872.51 779.10,877.10 C781.40,883.31 783.70,888.35 786.00,892.50 C788.27,896.59 790.53,899.48 792.80,902.80 C795.20,906.31 797.60,910.02 800.00,913.00 C801.88,915.33 803.75,917.29 805.63,919.28 C809.12,922.98 812.60,927.00 816.09,929.74 C820.16,932.95 824.23,935.50 828.30,937.59 C832.37,939.69 836.44,941.08 840.51,942.83" fill="none" stroke="#ff6000" stroke-width="2.7" stroke-linejoin="round" stroke-linecap="round"/>
</svg>
</body></html>
